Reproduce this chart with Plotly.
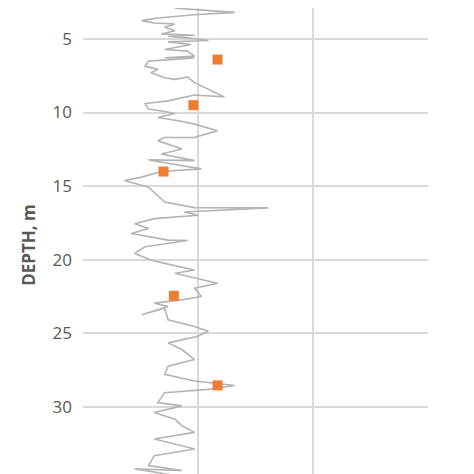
import plotly.graph_objects as go

log_value = [0.80,1.09,1.32,0.97,0.65,0.51,0.62,0.80,0.71,0.80,0.68,0.97,0.74,0.97,1.09,0.74,0.94,0.71,0.91,0.97,0.71,0.97,0.57,0.54,0.65,0.59,0.71,0.80,0.91,0.97,1.12,1.23,0.97,0.74,0.54,0.57,0.71,0.80,0.65,0.83,0.97,1.17,0.97,0.71,0.65,0.86,0.68,0.97,0.57,1.03,0.68,0.51,0.36,0.57,0.71,0.97,1.61,0.88,1.00,0.62,0.45,0.57,0.42,0.74,0.91,0.54,0.45,0.59,0.71,0.97,0.80,1.03,1.17,0.97,1.03,0.86,0.62,0.74,0.51,0.71,0.74,0.97,1.09,1.00,0.74,0.86,0.97,0.74,0.71,0.97,1.32,1.09,0.71,0.65,0.86,0.62,0.80,0.86,0.97,0.62,0.86,0.97,0.62,0.57,0.86,0.45,0.80]
log_depth = [2.91,3.09,3.20,3.36,3.58,3.76,3.92,3.99,4.21,4.44,4.66,4.75,4.82,4.98,5.11,5.20,5.38,5.72,5.83,6.17,6.28,6.30,6.51,6.85,7.07,7.30,7.64,7.75,7.59,7.97,8.53,8.94,8.81,9.21,9.39,9.77,9.93,10.07,10.34,10.56,10.79,11.24,11.69,11.70,11.91,12.48,12.82,13.27,13.22,13.83,14.01,14.39,14.62,15.07,16.08,16.46,16.48,16.76,16.98,17.21,17.55,17.88,18.22,18.67,18.69,19.12,19.57,20.02,20.25,20.70,20.92,21.37,21.60,21.94,22.50,22.73,22.95,23.18,23.74,23.29,24.08,24.53,24.86,25.20,25.65,26.10,26.78,27.23,27.79,28.24,28.54,28.81,29.03,29.71,29.93,30.38,30.83,31.28,31.73,32.18,32.64,32.86,33.31,33.99,34.32,34.21,34.66]
sample_value = [1.17,0.96,0.70,0.79,1.17]
sample_depth = [6.40,9.50,14.01,22.45,28.54]
y_ticks = [5,10,15,20,25,30,35]

fig = go.Figure()
fig.add_trace(go.Scatter(x=log_value, y=log_depth, mode="lines",
                         line=dict(color="#b4b4b4", width=1.6), showlegend=False))
fig.add_trace(go.Scatter(x=sample_value, y=sample_depth, mode="markers",
                         marker=dict(symbol="square", size=10, color="#ed7d31"), showlegend=False))
fig.update_layout(
    width=474, height=474, margin=dict(l=75, r=54, t=0, b=0, pad=0),
    plot_bgcolor="white", paper_bgcolor="white",
    font=dict(family="Open Sans", color="#595959", size=17),
    xaxis=dict(range=[0, 3], dtick=1, showticklabels=False, showgrid=True,
               gridcolor="#d9d9d9", gridwidth=1.5, zeroline=False, automargin=False,
               showline=True, linecolor="#d9d9d9", linewidth=1.5),
    yaxis=dict(range=[35.1, 2.9], tickvals=y_ticks, showgrid=True, automargin=False,
               gridcolor="#d9d9d9", gridwidth=1.5, zeroline=False,
               ticklabelstandoff=10,
               title=dict(text="<b>DEPTH, m</b>", font=dict(size=17), standoff=12)),
)
fig.write_html("out.html")
